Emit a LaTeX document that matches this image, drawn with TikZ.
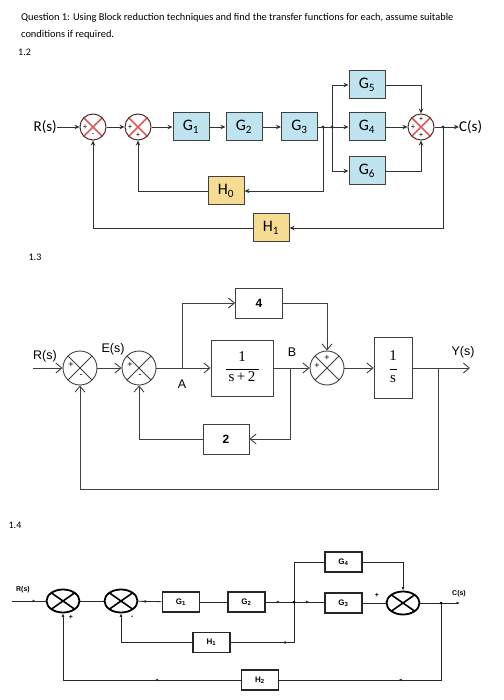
\documentclass[tikz,border=0pt]{standalone}
\usepackage{fontspec}
\setmainfont{Carlito}
\newfontfamily\arialf{Liberation Sans}
\newfontfamily\tnrf{Liberation Serif}
\usetikzlibrary{arrows.meta,shapes.geometric,decorations.markings,calc}
\definecolor{gblue}{HTML}{BFE4EF}
\definecolor{hyel}{HTML}{F6DC92}
\definecolor{sred}{HTML}{E05A5A}
\definecolor{sdark}{HTML}{5A2A2A}
\newcommand{\sbs}[1]{\textsubscript{#1}}
\tikzset{
  ln/.style={draw=black!80, line width=0.9pt},
  a12/.style={ln, -{Stealth[length=5pt,width=4.5pt]}},
  gbox/.style={draw=black!75, fill=gblue, line width=1pt, minimum width=36pt, minimum height=28pt, inner sep=0pt, font=\fontsize{16}{16}\selectfont},
  hbox/.style={gbox, fill=hyel},
  sumA/.style={circle, draw=sdark, fill=white, line width=1pt, minimum size=26pt, inner sep=0pt,
    path picture={\draw[sred, line width=1.6pt] (path picture bounding box.north west) -- (path picture bounding box.south east) (path picture bounding box.north east) -- (path picture bounding box.south west);}},
  sgn/.style={font=\fontsize{8}{8}\selectfont, inner sep=0pt},
  lbl12/.style={font=\fontsize{15}{15}\selectfont, inner sep=0pt},
  % 1.3
  l3/.style={draw=black!75, line width=0.9pt},
  a13/.style={l3, -{Straight Barb[length=6pt,width=10pt,line width=0.9pt]}},
  box3/.style={draw=black!75, line width=0.9pt, inner sep=0pt},
  sumB/.style={circle, draw=black!75, line width=0.9pt, minimum size=34pt, inner sep=0pt,
    path picture={\draw[black!75, line width=0.9pt] (path picture bounding box.north west) -- (path picture bounding box.south east) (path picture bounding box.north east) -- (path picture bounding box.south west);}},
  lbl13/.style={font=\arialf\fontsize{12.5}{12.5}\selectfont, inner sep=0pt},
  sgn3/.style={font=\arialf\fontsize{9}{9}\selectfont, inner sep=0pt},
  % 1.4
  l4/.style={draw=black!85, line width=0.8pt},
  box4/.style={draw=black!85, line width=1.6pt, minimum width=37pt, minimum height=20pt, inner sep=0pt, font=\arialf\bfseries\fontsize{8}{8}\selectfont},
  sumC/.style={ellipse, draw=black, line width=1.8pt, minimum width=33pt, minimum height=23pt, inner sep=0pt,
    path picture={\draw[black, line width=1.6pt] (path picture bounding box.north west) -- (path picture bounding box.south east) (path picture bounding box.north east) -- (path picture bounding box.south west);}},
  lbl14/.style={font=\arialf\bfseries\fontsize{7}{7}\selectfont, inner sep=0pt},
  mk/.style={postaction={decorate, decoration={markings, mark=at position #1 with {\arrow{Latex[length=3pt,width=3pt]}}}}},
  a14/.style={l4, -{Latex[length=3.5pt,width=3pt]}},
}
\begin{document}
\begin{tikzpicture}[x=1pt,y=-1pt]
\useasboundingbox[fill=white] (0,0) rectangle (503,700);

% ---------- heading ----------
\node[anchor=west, inner sep=0pt, font=\fontsize{10.4}{12}\selectfont] (t1) at (21,18) {Question 1: Using Block reduction techniques and find the transfer functions for each, assume suitable};
\node[anchor=west, inner sep=0pt, font=\fontsize{10.4}{12}\selectfont] (t2) at (21,35) {conditions if required.};
\node[anchor=west, inner sep=0pt, font=\fontsize{10}{12}\selectfont] (q12) at (18,52) {1.2};

% ---------- 1.2 ----------
\node[lbl12, anchor=east] (R2) at (57,127) {R(s)};
\node[sumA] (s1) at (93,127) {};
\node[sumA] (s2) at (138,127) {};
\node[gbox] (G1) at (191,127) {G\sbs{1}};
\node[gbox] (G2) at (244,127) {G\sbs{2}};
\node[gbox] (G3) at (299.5,127) {G\sbs{3}};
\coordinate (d1) at (323,127);
\coordinate (d2) at (332,127);
\node[gbox] (G5) at (367,85) {G\sbs{5}};
\node[gbox] (G4) at (367,127) {G\sbs{4}};
\node[gbox] (G6) at (367,171) {G\sbs{6}};
\node[sumA] (s3) at (421,127) {};
\coordinate (d3) at (443,127);
\node[lbl12, anchor=west] (C2) at (459,127) {C(s)};
\node[hbox] (H0) at (226,191) {H\sbs{0}};
\node[hbox] (H1) at (271,228) {H\sbs{1}};

\node[sgn] (p11) at ($(s1)+(-8,0)$) {+};
\node[sgn] (m12) at ($(s1)+(0,8)$) {-};
\node[sgn] (p21) at ($(s2)+(-8,0)$) {+};
\node[sgn] (p22) at ($(s2)+(0,8)$) {+};
\node[sgn] (p31) at ($(s3)+(0,-8)$) {+};
\node[sgn] (p32) at ($(s3)+(-8,0)$) {+};
\node[sgn] (p33) at ($(s3)+(0,8)$) {+};

\draw[a12] (R2) -- (s1);
\draw[a12] (s1) -- (s2);
\draw[a12] (s2) -- (G1);
\draw[a12] (G1) -- (G2);
\draw[a12] (G2) -- (G3);
\draw[ln] (G3) -- (d2);
\draw[a12] (d2) -- (G4);
\draw[a12] (d2) |- (G5);
\draw[a12] (d2) |- (G6);
\draw[a12] (G5) -| (s3);
\draw[a12] (G6) -| (s3);
\draw[a12] (G4) -- (s3);
\draw[a12] (s3) -- (C2);
\draw[a12] (d1) |- (H0);
\draw[a12] (H0) -| (s2);
\draw[a12] (d3) |- (H1);
\draw[a12] (H1) -| (s1);
\foreach \d in {d1,d2,d3} \fill[black!80] (\d) circle (1.6);

% ---------- 1.3 ----------
\node[anchor=center, inner sep=0pt, font=\fontsize{10}{12}\selectfont] (q13) at (35,257) {1.3};
\coordinate (in3) at (33,368);
\node[lbl13] (Rs3) at (45,356) {R(s)};
\node[sumB] (b1) at (80,368) {};
\node[sumB] (b2) at (139,368) {};
\node[lbl13] (Es) at (113,349) {E(s)};
\coordinate (A) at (182,368);
\node[lbl13] (Al) at (182,384) {A};
\node[box3, minimum width=47pt, minimum height=30pt, font=\arialf\bfseries\fontsize{12}{12}\selectfont] (k4) at (259,303) {4};
\node[box3, minimum width=62pt, minimum height=56pt, font=\tnrf\fontsize{15}{15}\selectfont] (f1) at (242,368)
  {\begin{tabular}{@{}c@{}}1\\[-6pt]\rule{33pt}{0.7pt}\\[-4pt]s\,+\,2\end{tabular}};
\coordinate (B) at (290,368);
\node[lbl13] (Bl) at (292,352) {B};
\node[sumB] (b3) at (327,368) {};
\node[box3, minimum width=38pt, minimum height=61pt, font=\tnrf\fontsize{15}{15}\selectfont] (is) at (393,368)
  {\begin{tabular}{@{}c@{}}1\\[-5pt]\rule{7pt}{0.7pt}\\[-3pt]s\end{tabular}};
\coordinate (Y) at (438,368);
\coordinate (yo) at (470,368);
\node[lbl13] (Yl) at (463,352) {Y(s)};
\node[box3, minimum width=46pt, minimum height=30pt, font=\arialf\bfseries\fontsize{12}{12}\selectfont] (k2) at (226,439) {2};
\coordinate (yb) at (438,489);

\node[sgn3] (q1) at ($(b1)+(-9,-3)$) {+};
\node[sgn3] (q2) at ($(b1)+(1,8)$) {-};
\node[sgn3] (q3) at ($(b2)+(-9,-3)$) {+};
\node[sgn3] (q4) at ($(b2)+(1,8)$) {-};
\node[sgn3] (q5) at ($(b3)+(0,-10)$) {+};
\node[sgn3] (q6) at ($(b3)+(-10,-2)$) {+};

\draw[a13] (in3) -- (b1);
\draw[a13] (b1) -- (b2);
\draw[a13] (b2) -- (f1);
\draw[a13] (A) |- (k4);
\draw[a13] (k4) -| (b3);
\draw[a13] (f1) -- (b3);
\draw[a13] (b3) -- (is);
\draw[a13] (is) -- (yo);
\draw[a13] (B) |- (k2);
\draw[a13] (k2) -| (b2);
\draw[a13] (Y) -- (yb) -| (b1);

% ---------- 1.4 ----------
\node[anchor=center, inner sep=0pt, font=\fontsize{10}{12}\selectfont] (q14) at (15,525) {1.4};
\coordinate (in4) at (12,601);
\node[lbl14] (Rs4) at (23,590) {R(s)};
\node[sumC] (c1) at (63,601) {};
\node[sumC] (c2) at (121,601) {};
\node[box4] (g1) at (181,602) {G\sbs{1}};
\node[box4] (g2) at (246.5,602) {G\sbs{2}};
\coordinate (J) at (294,602);
\node[box4] (g4) at (343.5,562) {G\sbs{4}};
\node[box4] (g3) at (343.5,603) {G\sbs{3}};
\node[sumC] (c3) at (403,603) {};
\coordinate (K) at (441,603);
\coordinate (co) at (460,603);
\node[lbl14] (Cs4) at (459,594) {C(s)};
\node[box4] (h1) at (211.5,642.5) {H\sbs{1}};
\node[box4] (h2) at (260,680) {H\sbs{2}};

\node[lbl14] (r1) at (71,617) {+};
\node[lbl14] (r2) at (132,617) {-};
\node[lbl14] (r3) at (377,595) {+};

\draw[l4, mk=0.7] (in4) -- (c1);
\draw[l4] (c1) -- (c2);
\draw[l4, mk=0.4] (c2) -- (g1);
\draw[l4] (g1) -- (g2);
\draw[l4, mk=0.5] (g2.east) -- (J);
\draw[l4, mk=0.5] (J) -- (g3.west |- J);
\draw[l4] (J) |- (g4);
\draw[a14] (g4) -| (c3);
\draw[l4] (g3) -- (c3);
\draw[l4, -{Latex[length=3.5pt,width=3pt]}] (c3) -- (co);
\draw[l4, mk=0.5] (J) |- (h1);
\draw[a14] (h1) -| (c2);
\draw[l4, mk=0.5] (K) |- (h2);
\draw[a14, mk=0.35] (h2) -| (c1);
\fill (J) circle (1.5);
\fill (K) circle (1.5);
\end{tikzpicture}
\end{document}
